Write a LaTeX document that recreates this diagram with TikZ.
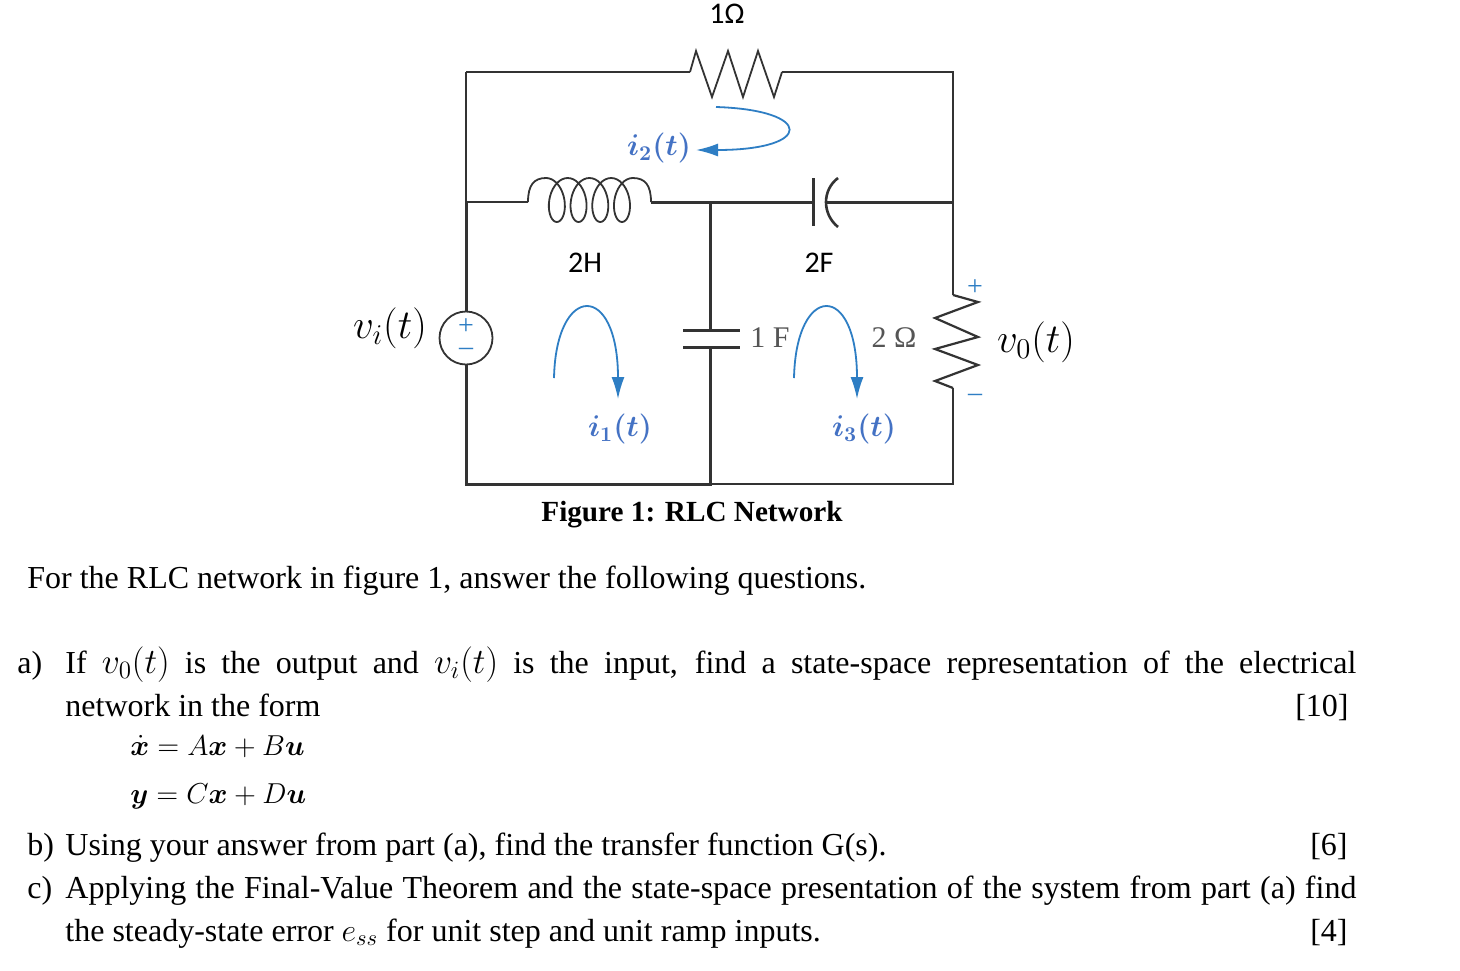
\documentclass[tikz,border=0pt]{standalone}
\usepackage{fix-cm}
\usepackage{amsmath}
\usepackage{bm}
\usepackage{fontspec}
\setmainfont{Liberation Serif}
\newfontfamily\carlito{Carlito}
\usetikzlibrary{arrows.meta}
\definecolor{wirecol}{HTML}{333333}
\definecolor{loopcol}{HTML}{2E7EC4}
\definecolor{currcol}{HTML}{4472C4}
\definecolor{valcol}{HTML}{555555}
\newcommand{\bodysize}{\fontsize{16}{19}\selectfont}
\newcommand{\partsize}{\fontsize{15}{17}\selectfont}
\newcommand{\eqsize}{\fontsize{14.4}{17}\selectfont}
\newcommand{\inl}[1]{{\fontsize{17.8}{19}\selectfont$#1$}}
\begin{document}
\begin{tikzpicture}[x=0.5pt,y=-0.5pt,
	wire/.style={draw=wirecol,line width=0.9pt},
	busbar/.style={draw=wirecol,line width=1.5pt},
	loopcurve/.style={draw=loopcol,line width=0.9pt,-{Latex[length=11pt,width=6.5pt]}},
	txt/.style={inner sep=0pt,anchor=base west,font=\bodysize},
	eqn/.style={inner sep=0pt,anchor=base west,font=\eqsize},
	score/.style={inner sep=0pt,anchor=base east,font=\bodysize},
	part/.style={inner sep=0pt,font=\partsize\carlito},
	val/.style={inner sep=0pt,text=valcol,font=\fontsize{15}{18}\selectfont},
	curr/.style={inner sep=0pt,text=currcol,font=\fontsize{15}{19}\selectfont},
	volt/.style={inner sep=0pt,font=\fontsize{20.5}{24}\selectfont},
	sign/.style={inner sep=0pt,text=loopcol,font=\fontsize{14}{16}\selectfont}]
\fill[white] (0,0) rectangle (1460,970);
\useasboundingbox (0,0) rectangle (1460,970);
\coordinate (tl) at (466,72);
\coordinate (tr) at (953,72);
\coordinate (ml) at (466,202);
\coordinate (mm) at (710,202);
\coordinate (mr) at (953,202);
\coordinate (bl) at (466,484);
\coordinate (bm) at (710,484);
\coordinate (br) at (953,484);
\coordinate (ra) at (690,72);
\coordinate (rb) at (782,72);
\coordinate (la) at (528,202);
\coordinate (lb) at (651,202);
\coordinate (ca) at (813,202);
\coordinate (cb) at (826,202);
\coordinate (da) at (710,330);
\coordinate (db) at (710,347);
\coordinate (oa) at (953,295);
\coordinate (ob) at (953,388);
\node [circle,wire,minimum size=26.5pt,inner sep=0pt] (vsrc) at (466,338) {};
\draw[wire] (tl) -- (ml) (tl) -- (ra) (rb) -- (tr) -- (mr) -- (oa) (ml) -- (la) (ob) -- (br) -- (bm);
\draw[busbar] (ml) -- (vsrc) (vsrc) -- (bl) -- (bm) -- (db) (da) -- (mm) (lb) -- (ca) (cb) -- (mr);
\draw[wire,line join=miter] (ra) -- (696,51) -- (712,97) -- (728,51) -- (743,97) -- (758,51) -- (774,97) -- (rb);
\draw[wire,line width=1.1pt,line join=miter] (oa) -- (978,302) -- (935,318) -- (978,337) -- (935,349) -- (978,365) -- (935,381) -- (ob);
\draw[wire] (la) .. controls (528,185) and (534,178) .. (546,178)
	-- plot[domain=0:1440,samples=145,smooth] ({546+0.0603*\x+13*sin(\x)},{200-22*cos(\x)})
	.. controls (645,178) and (651,185) .. (lb);
\draw[busbar] (ca)+(0,-24) -- +(0,24);
\draw[wire,line width=1.3pt] (838,178) .. controls (822,190) and (822,214) .. (838,227);
\draw[busbar] (683,330) -- (740,330) (683,347) -- (740,347);
\draw[loopcurve] (716,107) .. controls (814,110) and (814,150) .. (696,150);
\draw[loopcurve] (554,378) .. controls (556,283) and (618,281) .. (618,399);
\draw[loopcurve] (794,378) .. controls (796,283) and (857,281) .. (857,399);
\node [part] (rtop) at (727,14) {1Ω};
\node [part] (lval) at (585,263) {2H};
\node [part] (cval) at (819,263) {2F};
\node [val] (dval) at (770,338) {1 F};
\node [val] (oval) at (894,338) {2 Ω};
\node [curr] (itwo) at (659,148) {$\bm{i_2(t)}$};
\node [curr] (ione) at (620,429) {$\bm{i_1(t)}$};
\node [curr] (ithree) at (864,429) {$\bm{i_3(t)}$};
\node [volt] (vin) at (390,328) {$v_i(t)$};
\node [volt] (vout) at (1036,342) {$v_0(t)$};
\node [sign] (vplus) at (466,327) {+};
\node [sign] (vminus) at (466,352) {\textendash};
\node [sign] (oplus) at (975,288) {+};
\node [sign] (ominus) at (975,398) {\textendash};
\node [inner sep=0pt,font=\fontsize{14.6}{18}\selectfont\bfseries] (cap) at (692,515) {Figure 1: RLC Network};
\node [txt] (intro) at (27,588) {For the RLC network in figure 1, answer the following questions.};
\node [txt] (pa) at (17,673) {a)};
\node [txt] (paa) at (65,673) {\makebox[645.5pt][s]{If \inl{v_0(t)} is the output and \inl{v_i(t)} is the input, find a state-space representation of the electrical}};
\node [txt] (pab) at (65,716) {network in the form};
\node [score] (ma) at (1349,716) {[10]};
\node [eqn] (eqa) at (130,755) {$\dot{\bm{x}}=A\bm{x}+B\bm{u}$};
\node [eqn] (eqb) at (130,803) {$\bm{y}=C\bm{x}+D\bm{u}$};
\node [txt] (pb) at (27,855) {b)};
\node [txt] (pba) at (65,855) {Using your answer from part (a), find the transfer function G(s).};
\node [score] (mb) at (1348,855) {[6]};
\node [txt] (pc) at (27,898) {c)};
\node [txt] (pca) at (65,898) {\makebox[645.5pt][s]{Applying the Final-Value Theorem and the state-space presentation of the system from part (a) find}};
\node [txt] (pcb) at (65,941) {the steady-state error $e_{ss}$ for unit step and unit ramp inputs.};
\node [score] (mc) at (1348,941) {[4]};
\end{tikzpicture}
\end{document}
